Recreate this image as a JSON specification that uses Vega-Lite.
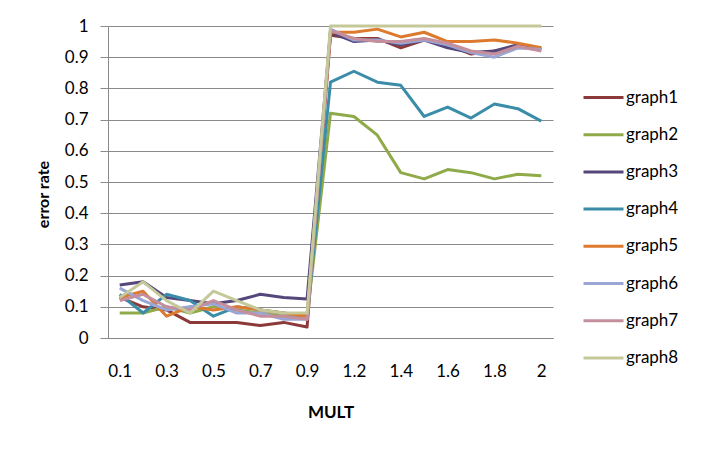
{
  "$schema": "https://vega.github.io/schema/vega-lite/v6.json",
  "width": 445,
  "height": 312,
  "autosize": "none",
  "padding": {"left": 108, "top": 26, "right": 153, "bottom": 118},
  "background": "white",
  "data": {
    "values": [
      {"MULT": "0.1", "graph1": 0.13, "graph2": 0.08, "graph3": 0.17, "graph4": 0.14, "graph5": 0.13, "graph6": 0.16, "graph7": 0.12, "graph8": 0.13},
      {"MULT": "0.2", "graph1": 0.10, "graph2": 0.08, "graph3": 0.18, "graph4": 0.08, "graph5": 0.15, "graph6": 0.12, "graph7": 0.14, "graph8": 0.18},
      {"MULT": "0.3", "graph1": 0.09, "graph2": 0.10, "graph3": 0.13, "graph4": 0.14, "graph5": 0.07, "graph6": 0.09, "graph7": 0.10, "graph8": 0.12},
      {"MULT": "0.4", "graph1": 0.05, "graph2": 0.08, "graph3": 0.12, "graph4": 0.12, "graph5": 0.10, "graph6": 0.10, "graph7": 0.09, "graph8": 0.08},
      {"MULT": "0.5", "graph1": 0.05, "graph2": 0.10, "graph3": 0.11, "graph4": 0.07, "graph5": 0.09, "graph6": 0.11, "graph7": 0.12, "graph8": 0.15},
      {"MULT": "0.6", "graph1": 0.05, "graph2": 0.09, "graph3": 0.12, "graph4": 0.10, "graph5": 0.10, "graph6": 0.08, "graph7": 0.09, "graph8": 0.12},
      {"MULT": "0.7", "graph1": 0.04, "graph2": 0.08, "graph3": 0.14, "graph4": 0.09, "graph5": 0.09, "graph6": 0.08, "graph7": 0.07, "graph8": 0.09},
      {"MULT": "0.8", "graph1": 0.05, "graph2": 0.07, "graph3": 0.13, "graph4": 0.08, "graph5": 0.08, "graph6": 0.06, "graph7": 0.07, "graph8": 0.08},
      {"MULT": "0.9", "graph1": 0.035, "graph2": 0.07, "graph3": 0.125, "graph4": 0.07, "graph5": 0.07, "graph6": 0.06, "graph7": 0.06, "graph8": 0.08},
      {"MULT": "1", "graph1": 0.97, "graph2": 0.72, "graph3": 0.98, "graph4": 0.82, "graph5": 0.98, "graph6": 0.99, "graph7": 0.985, "graph8": 1},
      {"MULT": "1.2", "graph1": 0.96, "graph2": 0.71, "graph3": 0.95, "graph4": 0.855, "graph5": 0.98, "graph6": 0.955, "graph7": 0.96, "graph8": 1},
      {"MULT": "1.3", "graph1": 0.96, "graph2": 0.65, "graph3": 0.955, "graph4": 0.82, "graph5": 0.99, "graph6": 0.955, "graph7": 0.95, "graph8": 1},
      {"MULT": "1.4", "graph1": 0.93, "graph2": 0.53, "graph3": 0.94, "graph4": 0.81, "graph5": 0.965, "graph6": 0.945, "graph7": 0.95, "graph8": 1},
      {"MULT": "1.5", "graph1": 0.955, "graph2": 0.51, "graph3": 0.955, "graph4": 0.71, "graph5": 0.98, "graph6": 0.955, "graph7": 0.96, "graph8": 1},
      {"MULT": "1.6", "graph1": 0.94, "graph2": 0.54, "graph3": 0.93, "graph4": 0.74, "graph5": 0.95, "graph6": 0.94, "graph7": 0.945, "graph8": 1},
      {"MULT": "1.7", "graph1": 0.91, "graph2": 0.53, "graph3": 0.915, "graph4": 0.705, "graph5": 0.95, "graph6": 0.915, "graph7": 0.92, "graph8": 1},
      {"MULT": "1.8", "graph1": 0.92, "graph2": 0.51, "graph3": 0.92, "graph4": 0.75, "graph5": 0.955, "graph6": 0.90, "graph7": 0.91, "graph8": 1},
      {"MULT": "1.9", "graph1": 0.93, "graph2": 0.525, "graph3": 0.94, "graph4": 0.735, "graph5": 0.945, "graph6": 0.93, "graph7": 0.935, "graph8": 1},
      {"MULT": "2", "graph1": 0.93, "graph2": 0.52, "graph3": 0.925, "graph4": 0.695, "graph5": 0.93, "graph6": 0.925, "graph7": 0.92, "graph8": 1}
    ]
  },
  "transform": [
    {"fold": ["graph1", "graph2", "graph3", "graph4", "graph5", "graph6", "graph7", "graph8"], "as": ["series", "rate"]}
  ],
  "mark": {"type": "line", "strokeWidth": 3, "strokeJoin": "round"},
  "encoding": {
    "x": {
      "field": "MULT",
      "type": "ordinal",
      "scale": {
        "type": "point",
        "padding": 0.5,
        "domain": ["0.1", "0.2", "0.3", "0.4", "0.5", "0.6", "0.7", "0.8", "0.9", "1", "1.2", "1.3", "1.4", "1.5", "1.6", "1.7", "1.8", "1.9", "2"]
      },
      "axis": {
        "title": "MULT",
        "values": ["0.1", "0.3", "0.5", "0.7", "0.9", "1.2", "1.4", "1.6", "1.8", "2"],
        "ticks": false,
        "tickSize": 0,
        "labelAngle": 0,
        "labelPadding": 25,
        "grid": false,
        "domainColor": "#868686",
        "titleY": 74,
        "titleFontSize": 17,
        "titleBaseline": "middle"
      }
    },
    "y": {
      "field": "rate",
      "type": "quantitative",
      "scale": {"domain": [0, 1], "nice": false},
      "axis": {
        "title": "error rate",
        "values": [0, 0.1, 0.2, 0.3, 0.4, 0.5, 0.6, 0.7, 0.8, 0.9, 1],
        "format": "~g",
        "tickSize": 8,
        "labelPadding": 12,
        "grid": true,
        "gridColor": "#8a8a8a",
        "tickColor": "#8a8a8a",
        "domainColor": "#8a8a8a",
        "titleX": -65,
        "titleY": 168,
        "titleFontSize": 16,
        "titleAlign": "center",
        "titleBaseline": "middle"
      }
    },
    "color": {
      "field": "series",
      "type": "nominal",
      "scale": {
        "domain": ["graph1", "graph2", "graph3", "graph4", "graph5", "graph6", "graph7", "graph8"],
        "range": ["#8B3A39", "#8FAA48", "#56477A", "#3A8CA8", "#DD7A2E", "#9AA7D6", "#C48E9C", "#C5C99A"]
      },
      "legend": {
        "title": null,
        "orient": "none",
        "legendX": 474,
        "legendY": 50,
        "symbolType": "stroke",
        "symbolSize": 1600,
        "symbolStrokeWidth": 3,
        "labelFontSize": 17,
        "labelOffset": 1,
        "rowPadding": 7.2
      }
    }
  },
  "config": {
    "font": "Lato",
    "view": {"stroke": null},
    "axis": {
      "labelFont": "Lato",
      "labelFontSize": 17,
      "labelColor": "#000000",
      "titleFont": "Lato",
      "titleFontSize": 15,
      "titleFontWeight": "bold",
      "titleColor": "#000000",
      "gridWidth": 1,
      "domainWidth": 1
    },
    "legend": {"labelFont": "Lato", "labelColor": "#000000"}
  }
}
